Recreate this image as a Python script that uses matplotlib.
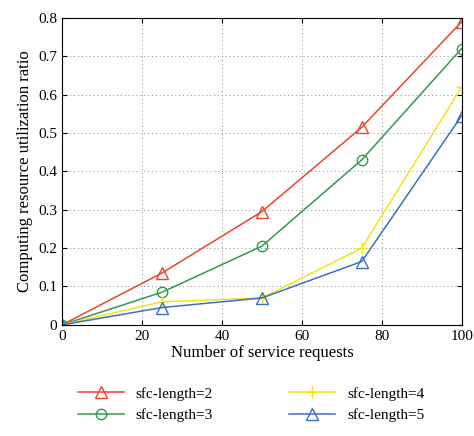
import matplotlib
matplotlib.use("Agg")
import matplotlib.pyplot as plt

plt.rcParams["font.family"] = ["Liberation Serif", "DejaVu Serif"]

requests = [0, 25, 50, 75, 100]
series = {
    "sfc-length=2": [0.0, 0.135, 0.295, 0.515, 0.79],
    "sfc-length=3": [0.0, 0.085, 0.205, 0.43, 0.72],
    "sfc-length=4": [0.0, 0.06, 0.07, 0.2, 0.62],
    "sfc-length=5": [0.0, 0.045, 0.07, 0.165, 0.545],
}
styles = {
    "sfc-length=2": dict(color="#e8452c", marker="^", markersize=8, markerfacecolor="none"),
    "sfc-length=3": dict(color="#2e9a4e", marker="o", markersize=7.5, markerfacecolor="none"),
    "sfc-length=4": dict(color="#f5e21b", marker="+", markersize=8),
    "sfc-length=5": dict(color="#3a6fc4", marker="^", markersize=8, markerfacecolor="none"),
}

fig = plt.figure(figsize=(4.74, 4.36), dpi=100)
ax = fig.add_axes([0.131, 0.255, 0.843, 0.704])
for name, vals in series.items():
    ax.plot(requests, vals, linewidth=1.1, label=name, **styles[name])

ax.set_xlim(0, 100)
ax.set_ylim(0, 0.8)
ax.set_xticks([0, 20, 40, 60, 80, 100])
ax.set_yticks([0, 0.1, 0.2, 0.3, 0.4, 0.5, 0.6, 0.7, 0.8])
ax.set_yticklabels(["0", "0.1", "0.2", "0.3", "0.4", "0.5", "0.6", "0.7", "0.8"])
ax.grid(True, linestyle=(0, (1, 3)), color="#888888", linewidth=0.7)
ax.tick_params(direction="in", top=True, right=True, labelsize=11)
ax.set_xlabel("Number of service requests", fontsize=12, labelpad=2)
ax.set_ylabel("Computing resource utilization ratio", fontsize=12)

fig.legend(loc="lower center", bbox_to_anchor=(0.53, 0.0), ncol=2, frameon=False,
           fontsize=11, columnspacing=5, handlelength=3)
fig.savefig("out.png")
